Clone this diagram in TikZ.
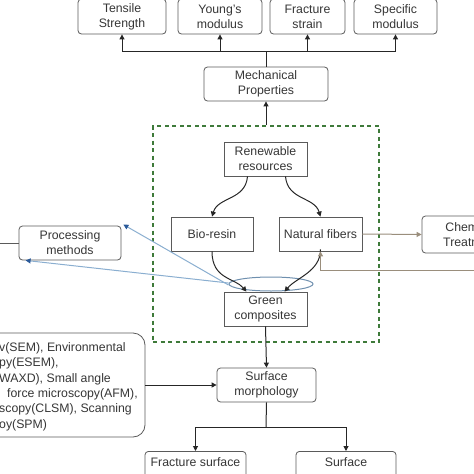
\documentclass[tikz,border=0pt]{standalone}
\usepackage{fontspec}
\setmainfont{Liberation Sans}
\usetikzlibrary{arrows.meta,shapes.geometric}
\definecolor{txt}{HTML}{363636}
\definecolor{bord}{HTML}{5A5A5A}
\definecolor{dgreen}{HTML}{3E7A3A}
\definecolor{tanc}{HTML}{9A8E7C}
\definecolor{lblue}{HTML}{8AAED0}
\definecolor{dblue}{HTML}{2A5A9A}
\definecolor{eblue}{HTML}{6E8FAE}
\tikzset{
  every node/.style={font=\fontsize{12.3}{15}\selectfont, text=txt, inner sep=0pt},
  rbox/.style={draw=bord, line width=0.8pt, rounded corners=3.5pt, align=center},
  sbox/.style={draw=bord, line width=0.8pt, align=center},
  conn/.style={draw=black!85, line width=1pt},
  arr/.style={conn, -{Triangle[length=5pt,width=5pt]}},
  tanarr/.style={draw=tanc, line width=1pt, -{Triangle[length=5pt,width=5pt]}},
  bluearr/.style={draw=lblue, line width=1pt, -{Triangle[length=5pt,width=5pt,color=dblue]}},
}
\begin{document}
\begin{tikzpicture}[x=1pt,y=-1pt]
\useasboundingbox (0,0) rectangle (474,474);
\clip (0,0) rectangle (474,474);
% top row
\node[rbox, minimum width=88pt, minimum height=35pt] (ten) at (122,16.5) {Tensile\\Strength};
\node[rbox, minimum width=84pt, minimum height=35pt] (you) at (220,16.5) {Young's\\modulus};
\node[rbox, minimum width=75pt, minimum height=35pt] (fra) at (307.5,16.5) {Fracture\\strain};
\node[rbox, minimum width=83pt, minimum height=35pt] (spe) at (395.5,16.5) {Specific\\modulus};
\node[rbox, minimum width=124pt, minimum height=34pt] (mech) at (266,84) {Mechanical\\Properties};
\coordinate (bus) at (266,51);
\draw[conn] (mech.north) -- (bus);
\draw[arr] (bus) -| (ten.south);
\draw[arr] (bus) -| (you.south);
\draw[arr] (bus) -| (fra.south);
\draw[arr] (bus) -| (spe.south);
% dashed green region
\node[draw=dgreen, line width=1.3pt, dash pattern=on 4pt off 3.5pt, minimum width=226pt, minimum height=216pt] (dash) at (266,234) {};
\draw[arr] (dash.north) -- (mech.south);
\node[sbox, minimum width=83pt, minimum height=34pt] (ren) at (265.5,159) {Renewable\\resources};
\node[sbox, minimum width=82pt, minimum height=34pt] (bio) at (212,234) {Bio-resin};
\node[sbox, minimum width=83pt, minimum height=34pt] (nat) at (320.5,234) {Natural fibers};
\node[sbox, minimum width=83pt, minimum height=34pt] (gre) at (265.5,309) {Green\\composites};
\node[draw=eblue, line width=1pt, ellipse, minimum width=84pt, minimum height=14pt] (ell) at (271,284) {};
\draw[arr] ([xshift=-18pt]ren.south) .. controls +(-2,24) and +(6,-20) .. (bio.north);
\draw[arr] ([xshift=20pt]ren.south) .. controls +(2,24) and +(-6,-20) .. (nat.north);
\draw[arr] (bio.south) .. controls +(0,28) and +(-12,-14) .. ([xshift=-19pt]gre.north);
\draw[arr] ([yshift=2pt]nat.south) .. controls +(0,22) and +(12,-14) .. ([xshift=19pt]gre.north);
% chemical treatment
\node[rbox, minimum width=98pt, minimum height=37pt] (che) at (471,234.5) {Chemical\\Treatment};
\draw[tanarr] (nat.east) -- (che.west);
\coordinate (ret) at (480,270);
\draw[tanarr] (ret) -| (nat.south);
% processing methods
\node[rbox, minimum width=102pt, minimum height=34pt] (pro) at (70,243) {Processing\\methods};
\coordinate (proL) at (-5,243);
\draw[conn, draw=bord] (proL) -- (pro.west);
\draw[bluearr] ([yshift=-1pt]ell.west) -- ([xshift=2pt,yshift=1pt]pro.north east);
\draw[bluearr] ([yshift=1pt]ell.west) -- ([xshift=7pt]pro.south west);
% surface morphology
\node[rbox, minimum width=99pt, minimum height=34pt] (sur) at (266.5,385) {Surface\\morphology};
\draw[arr] (gre.south) -- (sur.north);
\node[draw=bord, line width=0.8pt, rounded corners=12pt, minimum width=305pt, minimum height=104pt] (lbox) at (-7.5,385) {};
\node[anchor=north west, align=left, font=\fontsize{12.3}{15.3}\selectfont] (ltext) at (-1,342.5) {v(SEM), Environmental\\py(ESEM),\\WAXD), Small angle\\\hspace*{8pt}force microscopy(AFM),\\scopy(CLSM), Scanning\\oy(SPM)};
\draw[arr] (lbox.east) -- (sur.west);
\coordinate (sb) at (266,427);
\draw[conn] (sur.south) -- (sb);
\node[rbox, anchor=north, minimum width=101pt, text height=12pt, text depth=23pt, inner ysep=3pt] (fsu) at (195.5,451) {Fracture surface};
\node[rbox, anchor=north, minimum width=100pt, text height=12pt, text depth=23pt, inner ysep=3pt] (sfc) at (346,451) {Surface};
\draw[arr] (sb) -| (fsu.north);
\draw[arr] (sb) -| (sfc.north);
\end{tikzpicture}
\end{document}
